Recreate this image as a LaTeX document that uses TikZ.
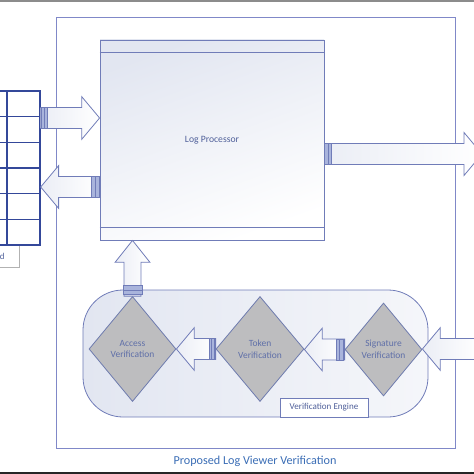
\documentclass[tikz,border=0pt]{standalone}
\usepackage{fontspec}
\setmainfont{Carlito}
\usetikzlibrary{shapes.geometric,calc}

\definecolor{edge}{HTML}{707CB8}
\definecolor{gridblue}{HTML}{34489A}
\definecolor{framecol}{HTML}{8088C8}
\definecolor{diamfill}{HTML}{BDBDBF}
\definecolor{diamedge}{HTML}{6E7BAE}
\definecolor{diamtext}{HTML}{5F6FA8}
\definecolor{proctext}{HTML}{50609A}
\definecolor{captext}{HTML}{3A6DB5}
\definecolor{shadeblue}{HTML}{E2E6F1}
\definecolor{stubfill}{HTML}{A9B4DC}

% horizontal block arrow from #1 to tip #2
\newcommand\hblock[2]{%
  \draw[blockarrow] let \p1=#1, \p2=#2, \n1={ifthenelse(\x2>\x1,\x2-18,\x2+18)} in
    (\x1,\y1-10.5) -- (\n1*1pt,\y1-10.5) -- (\n1*1pt,\y1-21.5) -- (\x2,\y1)
    -- (\n1*1pt,\y1+21.5) -- (\n1*1pt,\y1+10.5) -- (\x1,\y1+10.5) -- cycle;}
% vertical block arrow from #1 to tip #2
\newcommand\vblock[2]{%
  \draw[blockarrow] let \p1=#1, \p2=#2, \n1={ifthenelse(\y2>\y1,\y2-22,\y2+22)} in
    (\x1-8.5,\y1) -- (\x1-8.5,\n1*1pt) -- (\x1-17.5,\n1*1pt) -- (\x1,\y2)
    -- (\x1+17.5,\n1*1pt) -- (\x1+8.5,\n1*1pt) -- (\x1+8.5,\y1) -- cycle;}

\begin{document}
\begin{tikzpicture}[x=1bp,y=-1bp,inner sep=0pt,line width=0.8bp,
  box/.style={draw=edge,rectangle},
  blockarrow/.style={draw=edge,left color=shadeblue!70,right color=white},
  hstub/.style={draw=edge,fill=stubfill,minimum width=7bp,minimum height=21bp,
    path picture={\draw[edge] (path picture bounding box.north) -- (path picture bounding box.south);}},
  vstub/.style={draw=edge,fill=stubfill,minimum width=19bp,minimum height=9bp,
    path picture={\draw[edge] (path picture bounding box.west) -- (path picture bounding box.east);}},
  check/.style={diamond,draw=diamedge,fill=diamfill,align=center,text=diamtext,
    font=\fontsize{9.5}{12}\selectfont}]
\useasboundingbox (0,0) rectangle (474,474);
\fill[black!45] (0,0) rectangle (474,2.5);
\fill[black!85] (0,471.5) rectangle (474,474);

% frame and caption
\node[box,draw=framecol,minimum width=399bp,minimum height=431bp] (frame) at (255.5,232.5) {};
\node[text=captext,font=\fontsize{12.2}{14}\selectfont] (caption) at (255,461) {Proposed Log Viewer Verification};

% log store table
\node[draw=gray!60,line width=0.6bp,anchor=north east,minimum width=60bp,minimum height=22bp,
  text width=30bp,align=right,text=proctext,font=\fontsize{9}{10}\selectfont] (legend) at (20,245) {d};
\node[draw=gridblue,line width=1.4bp,minimum width=50bp,minimum height=154bp] (grid) at (15,168) {};
\foreach \r in {1,...,5}
  \draw[gridblue,line width=1.4bp] (-10,91+\r*25.67) -- (40,91+\r*25.67);
\draw[gridblue,line width=1.4bp] (7,91) -- (7,245);

% log processor
\node[box,top color=shadeblue,bottom color=white,shading angle=20,minimum width=224bp,minimum height=200bp,
  text=proctext,font=\fontsize{9.7}{11}\selectfont] (proc) at (212,140) {Log Processor};
\draw[edge] ([yshift=-13bp]proc.north west) -- ([yshift=-13bp]proc.north east);
\draw[edge] ([yshift=13bp]proc.south west) -- ([yshift=13bp]proc.south east);

% verification engine
\node[box,rounded corners=40bp,left color=shadeblue,right color=shadeblue!35,
  minimum width=345bp,minimum height=127bp] (engine) at (255.5,353.5) {};
\node[box,fill=white,minimum width=88bp,minimum height=19bp,text=proctext,
  font=\fontsize{9.1}{10}\selectfont] (enginelabel) at (324,407.5) {Verification Engine};

\node[check,minimum width=87bp,minimum height=105bp] (access) at (132.5,349) {Access\\Verification};
\node[check,minimum width=88bp,minimum height=105bp] (token) at (260,349) {Token\\Verification};
\node[check,minimum width=77bp,minimum height=93bp] (sign) at (383.5,349.5) {Signature\\Verification};

% arrows
\coordinate (inrow) at (0,118);
\coordinate (outrow) at (0,187);
\coordinate (exit) at (482,154);
\coordinate (entry) at (480,349);
\hblock{(grid.east |- inrow)}{(proc.west |- inrow)}
\hblock{(proc.west |- outrow)}{(grid.east |- outrow)}
\hblock{(proc.east |- exit)}{(exit)}
\vblock{(access.north)}{(proc.south -| access.north)}
\hblock{(token.west)}{(access.east)}
\hblock{(sign.west)}{(token.east)}
\hblock{(entry)}{(sign.east)}

\node[hstub,minimum width=6bp,anchor=west] at (grid.east |- inrow) {};
\node[hstub,minimum width=8bp,anchor=east] at (proc.west |- outrow) {};
\node[hstub,anchor=west] at (proc.east |- exit) {};
\node[vstub,anchor=south] at ([yshift=1bp]access.north) {};
\node[hstub,minimum width=5bp,anchor=east] at ([xshift=-1bp]token.west) {};
\node[hstub,anchor=east] at ([xshift=-1bp]sign.west) {};
\end{tikzpicture}
\end{document}
